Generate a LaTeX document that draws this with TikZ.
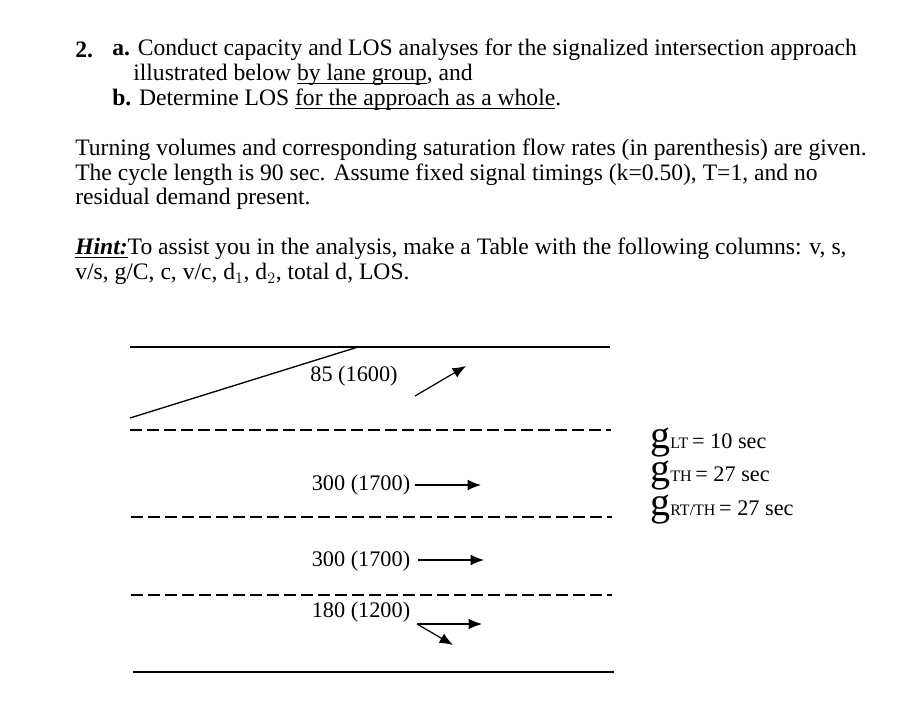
\documentclass[tikz,border=0pt]{standalone}
\usepackage{fontspec}
\setmainfont{Liberation Serif}
\usetikzlibrary{arrows.meta}
\newcommand{\myul}[1]{\setbox0\hbox{#1}\rlap{\rule[-2.5pt]{\wd0}{0.7pt}}\box0}
\begin{document}
\begin{tikzpicture}[x=0.75pt,y=-0.75pt,
  txt/.style={anchor=west,inner sep=0pt,font=\fontsize{17.7}{20}\selectfont},
  lab/.style={anchor=center,inner sep=0pt,font=\fontsize{16.7}{18}\selectfont},
  glab/.style={anchor=west,inner sep=0pt,font=\fontsize{16.7}{18}\selectfont},
  road/.style={line width=1pt},
  lane/.style={line width=0.9pt,dash pattern=on 9pt off 3.75pt},
  arr/.style={line width=0.9pt,-{Latex[length=10pt,width=8pt]}}]
\useasboundingbox (0,0) rectangle (902,703);
\node[txt] (n2) at (75,50) {\textbf{2.}};
\node[txt] (a1) at (112,50) {\textbf{a.} Conduct capacity and LOS analyses for the signalized intersection approach};
\node[txt] (a2) at (133,75) {illustrated below \myul{by lane group}, and};
\node[txt] (b1) at (112,100) {\textbf{b.} Determine LOS \myul{for the approach as a whole}.};
\node[txt] (t1) at (75,150) {Turning volumes and corresponding saturation flow rates (in parenthesis) are given.};
\node[txt] (t2) at (75,175) {The cycle length is 90 sec. Assume fixed signal timings (k=0.50), T=1, and no};
\node[txt] (t3) at (75,199) {residual demand present.};
\node[txt] (h1) at (75,249) {\myul{\textbf{\textit{Hint:}}} To assist you in the analysis, make a Table with the following columns: v, s,};
\node[txt] (h2) at (75,274) {v/s, g/C, c, v/c, d$_1$, d$_2$, total d, LOS.};
% road
\draw[road] (130,347) -- (610,347);
\draw[road] (130,418) -- (358,347);
\draw[lane] (130,430) -- (611,430);
\draw[lane] (131,517) -- (612,517);
\draw[lane] (131,595) -- (612,595);
\draw[road] (133,672) -- (614,672);
% labels
\node[lab] (l1) at (354,376) {85 (1600)};
\node[lab] (l2) at (361,485) {300 (1700)};
\node[lab] (l3) at (361,561) {300 (1700)};
\node[lab] (l4) at (361,612) {180 (1200)};
\coordinate (s1) at (415,396); \coordinate (e1) at (466,366);
\draw[arr] (s1) -- (e1);
\coordinate (s2) at (415,485); \coordinate (e2) at (481,485);
\draw[arr] (s2) -- (e2);
\coordinate (s3) at (418,560); \coordinate (e3) at (484,560);
\draw[arr] (s3) -- (e3);
\coordinate (s4) at (417,624); \coordinate (e4) at (482,624); \coordinate (e5) at (453,645);
\draw[arr] (s4) -- (e4);
\draw[arr] (s4) -- (e5);
% greens
\node[glab] (g1) at (650,443) {{\fontsize{30}{30}\selectfont g}{\fontsize{12}{12}\selectfont LT}\,= 10 sec};
\node[glab] (g2) at (650,476) {{\fontsize{30}{30}\selectfont g}{\fontsize{12}{12}\selectfont TH}\,= 27 sec};
\node[glab] (g3) at (650,510) {{\fontsize{30}{30}\selectfont g}{\fontsize{12}{12}\selectfont RT/TH}\,= 27 sec};
\end{tikzpicture}
\end{document}
